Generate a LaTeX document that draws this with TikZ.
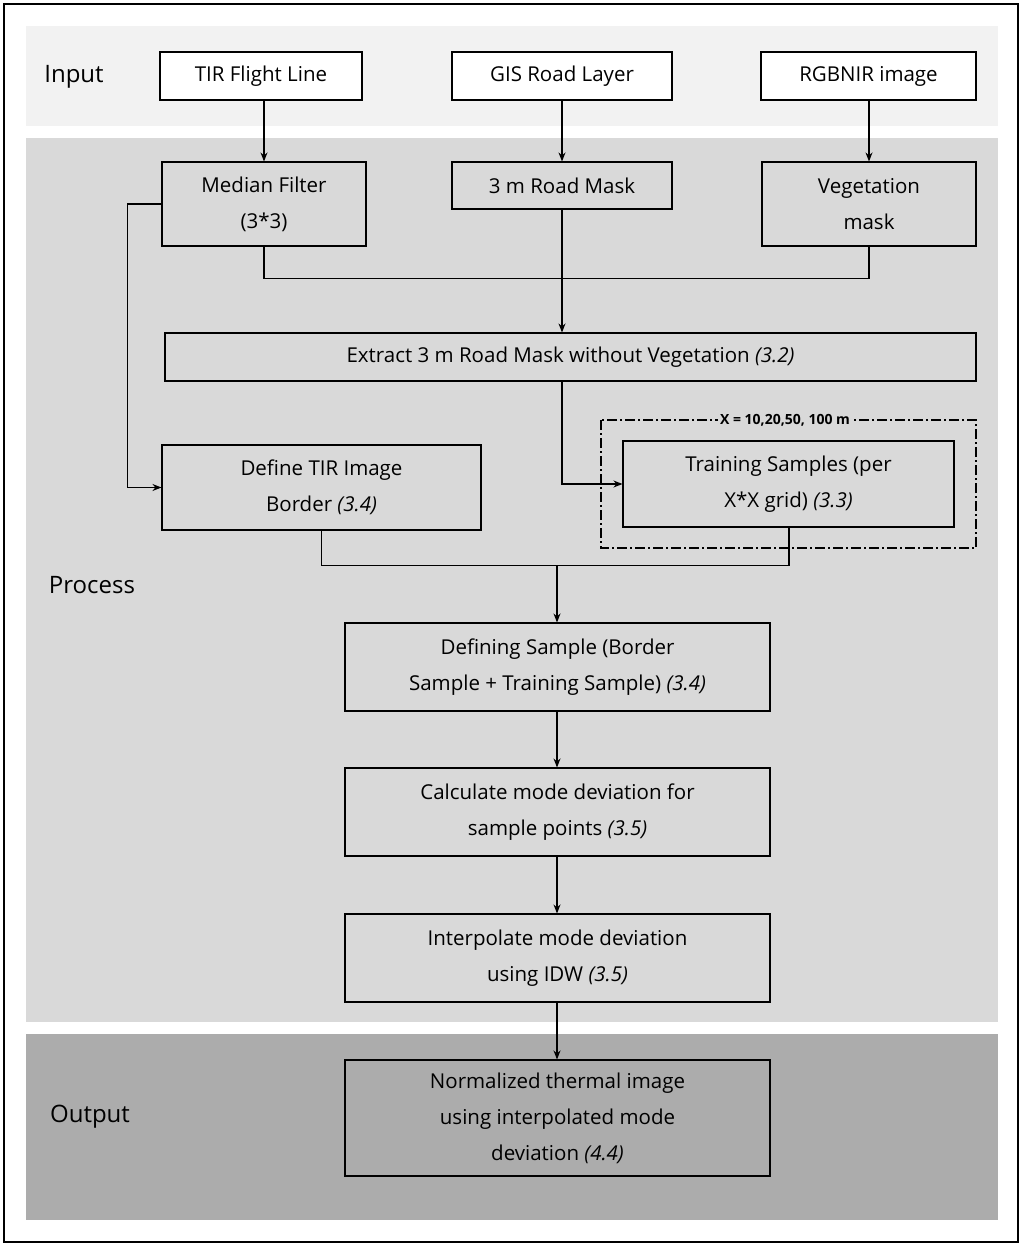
\documentclass[tikz,border=0pt]{standalone}
\usepackage{fontspec}
\setmainfont{Open Sans}
\usetikzlibrary{arrows.meta}
\begin{document}
\begin{tikzpicture}[x=1pt,y=-1pt,
 bx/.style={draw,line width=1.1pt,align=center,inner sep=0pt,font=\fontsize{20.5}{36}\selectfont},
 ar/.style={-{Stealth[length=9pt,width=7pt]},line width=1.1pt},
 ln/.style={line width=1.1pt},
 lab/.style={font=\fontsize{24}{28}\selectfont}]
\useasboundingbox (0,0) rectangle (1024,1246);
\draw[line width=2pt] (4,4) rectangle (1018,1242);
\fill[gray!10] (26,26) rectangle (998,126);
\fill[gray!30] (26,138) rectangle (998,1022);
\fill[gray!65] (26,1034) rectangle (998,1220);
\node[lab] (lin) at (74,77) {Input};
\node[lab] (lpr) at (92,585) {Process};
\node[lab] (lou) at (90,1117) {Output};
\newcommand{\bxat}[6]{\node[bx,fill=#6,minimum width=#4-#2,minimum height=#5-#3] (#1) at ({(#2+#4)/2},{(#3+#5)/2})}
\bxat{tir}{160}{52}{362}{100}{white}{TIR Flight Line};
\bxat{gis}{452}{52}{672}{100}{white}{GIS Road Layer};
\bxat{rgb}{761}{52}{976}{100}{white}{RGBNIR image};
\bxat{med}{162}{162}{366}{246}{gray!30}{Median Filter\\(3*3)};
\bxat{rm}{452}{162}{672}{209}{gray!30}{3 m Road Mask};
\bxat{veg}{762}{162}{976}{246}{gray!30}{Vegetation\\mask};
\bxat{ext}{165}{333}{976}{381}{gray!30}{Extract 3 m Road Mask without Vegetation \textit{(3.2)}};
\bxat{def}{162}{445}{481}{530}{gray!30}{Define TIR Image\\Border \textit{(3.4)}};
\draw[ln,dash pattern=on 10pt off 3pt on 2pt off 3pt] (601,420) rectangle (976,548);
\node[font=\bfseries\fontsize{14}{16}\selectfont,fill=gray!30,inner sep=2pt] (xl) at (785,420) {X = 10,20,50, 100 m};
\bxat{trn}{623}{441}{954}{527}{gray!30}{Training Samples (per\\X*X grid) \textit{(3.3)}};
\bxat{ds}{345}{623}{770}{711}{gray!30}{Defining Sample (Border\\Sample + Training Sample) \textit{(3.4)}};
\bxat{cm}{345}{768}{770}{856}{gray!30}{Calculate mode deviation for\\sample points \textit{(3.5)}};
\bxat{im}{345}{914}{770}{1002}{gray!30}{Interpolate mode deviation\\using IDW \textit{(3.5)}};
\bxat{nt}{345}{1060}{770}{1176}{gray!65}{Normalized thermal image\\using interpolated mode\\deviation \textit{(4.4)}};
\draw[ar] (tir.south -| med) -- (med);
\draw[ar] (gis) -- (rm);
\draw[ar] (rgb.south -| veg) -- (veg);
\draw[ln] (med.south) -- ++(0,32) -| (veg.south);
\draw[ar] (rm.south) -- (rm.south |- ext.north);
\draw[ar] (med.west) -- ++(-34,0) |- (def.west);
\draw[ar] (ext.south -| rm.south) |- (trn.west);
\draw[ln] (def.south) -- ++(0,35) coordinate (j1) -| (789,527);
\coordinate (j2) at (557,565);
\draw[ar] (j2) -- (j2 |- ds.north);
\draw[ar] (ds.south -| j2) -- (cm.north -| j2);
\draw[ar] (cm.south -| j2) -- (im.north -| j2);
\draw[ar] (im.south -| j2) -- (nt.north -| j2);
\end{tikzpicture}
\end{document}
